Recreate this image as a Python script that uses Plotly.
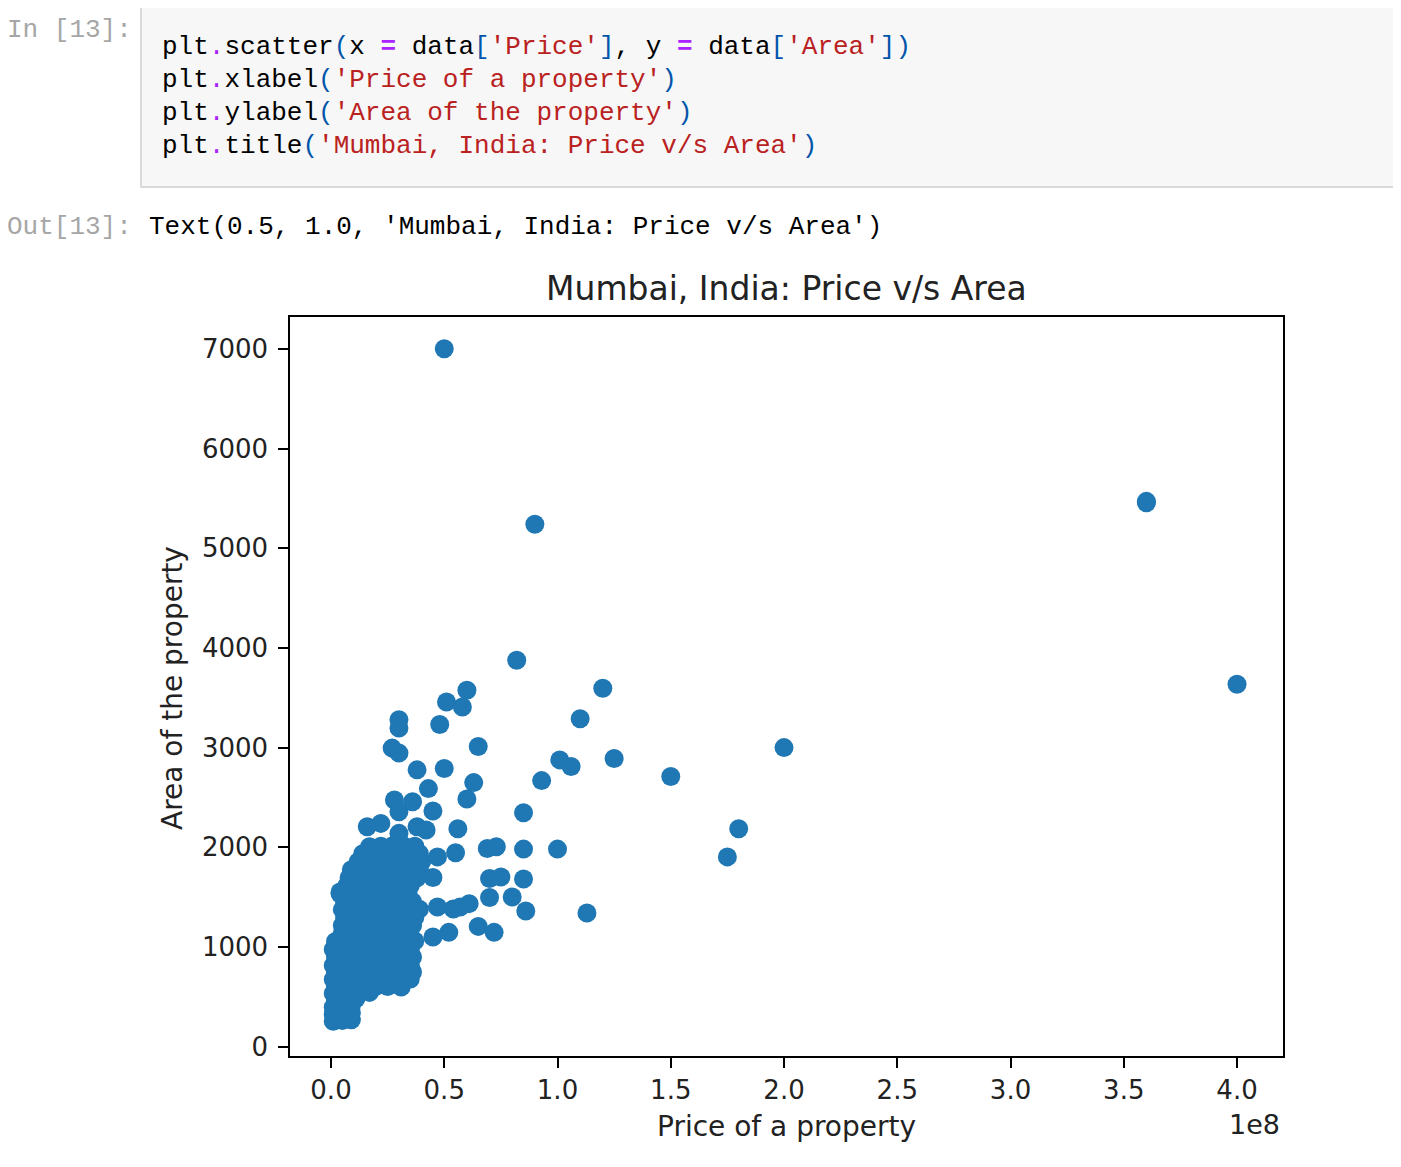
import plotly.graph_objects as go
import numpy as np

# dense block of listings close to the origin (price in units of 1e8)
cluster_price = [
    0.01, 0.05, 0.09,
    0.01, 0.05, 0.09,
    0.01, 0.05, 0.09,
    0.02, 0.06, 0.11,
    0.01, 0.05, 0.09, 0.13, 0.17,
    0.02, 0.06, 0.10, 0.15, 0.20, 0.25, 0.31,
    0.01, 0.05, 0.09, 0.14, 0.19, 0.24, 0.29, 0.35,
    0.02, 0.06, 0.11, 0.16, 0.21, 0.26, 0.31, 0.36,
    0.01, 0.05, 0.10, 0.15, 0.20, 0.25, 0.30, 0.35,
    0.02, 0.06, 0.11, 0.16, 0.21, 0.26, 0.31, 0.36,
    0.01, 0.05, 0.10, 0.15, 0.20, 0.25, 0.30, 0.35,
    0.02, 0.07, 0.12, 0.17, 0.22, 0.27, 0.32, 0.37,
    0.05, 0.09, 0.14, 0.19, 0.24, 0.29, 0.33,
    0.05, 0.10, 0.15, 0.20, 0.25, 0.30, 0.36,
    0.06, 0.11, 0.16, 0.21, 0.26, 0.31, 0.37,
    0.05, 0.10, 0.15, 0.20, 0.25, 0.30, 0.35, 0.39,
    0.06, 0.11, 0.16, 0.21, 0.26, 0.31, 0.36,
    0.04, 0.09, 0.14, 0.19, 0.24, 0.29, 0.34,
    0.07, 0.12, 0.17, 0.22, 0.27, 0.32, 0.35,
    0.08, 0.13, 0.18, 0.23, 0.28, 0.33, 0.38,
    0.09, 0.14, 0.19, 0.24, 0.29, 0.34, 0.39,
    0.12, 0.17, 0.22, 0.27, 0.32, 0.37, 0.40,
    0.14, 0.19, 0.24, 0.29, 0.34, 0.39,
    0.17, 0.22, 0.27, 0.32, 0.37,
]
cluster_area = [
    255, 262, 270,
    325, 332, 340,
    395, 402, 410,
    465, 472, 480,
    535, 540, 545, 550, 545,
    605, 610, 612, 615, 610, 605, 600,
    675, 680, 682, 685, 680, 678, 675, 680,
    745, 750, 752, 755, 750, 748, 745, 750,
    815, 820, 822, 825, 820, 818, 815, 820,
    895, 900, 902, 905, 900, 898, 895, 900,
    975, 980, 982, 985, 980, 978, 975, 980,
    1055, 1060, 1062, 1065, 1060, 1058, 1055, 1060,
    1135, 1140, 1142, 1145, 1140, 1138, 1135,
    1215, 1220, 1222, 1225, 1220, 1218, 1215,
    1295, 1300, 1302, 1305, 1300, 1298, 1295,
    1375, 1380, 1382, 1385, 1380, 1378, 1375, 1380,
    1455, 1460, 1462, 1465, 1460, 1458, 1455,
    1535, 1540, 1542, 1545, 1540, 1538, 1535,
    1615, 1620, 1622, 1625, 1620, 1618, 1615,
    1695, 1700, 1702, 1705, 1700, 1698, 1695,
    1775, 1780, 1782, 1785, 1780, 1778, 1775,
    1855, 1860, 1862, 1865, 1860, 1858, 1855,
    1935, 1940, 1942, 1945, 1940, 1938,
    2005, 2010, 2012, 2015, 2010,
]

# the scattered, pricier listings
spread_price = [
    0.16, 0.22, 0.30, 0.38, 0.42, 0.28, 0.36, 0.30,
    0.30, 0.30, 0.27, 0.30, 0.04, 0.45, 0.52, 0.47,
    0.82, 1.20, 0.60, 0.51, 0.58, 1.10, 0.48, 0.65,
    2.00, 1.25, 1.01, 1.06, 0.50, 0.38, 1.50, 0.93,
    0.63, 0.43, 0.60, 0.45, 0.85, 1.80, 0.56, 0.69,
    0.73, 0.85, 1.00, 0.55, 0.47, 1.75, 0.45, 0.70,
    0.75, 0.85, 0.70, 0.80, 0.61, 0.57, 0.54, 0.86,
    1.13, 0.65, 0.72, 0.90, 0.50, 3.60, 3.60, 4.00,
]
spread_area = [
    2207, 2240, 2140, 2207, 2173, 2475, 2458, 2357,
    3280, 3196, 2995, 2945, 1552, 1100, 1147, 1402,
    3876, 3595, 3575, 3458, 3407, 3290, 3232, 3011,
    3000, 2890, 2877, 2810, 2790, 2777, 2710, 2669,
    2649, 2589, 2485, 2364, 2347, 2186, 2186, 1989,
    2005, 1982, 1982, 1945, 1904, 1904, 1697, 1687,
    1703, 1683, 1496, 1502, 1435, 1402, 1381, 1361,
    1341, 1207, 1147, 5240, 7000, 5456, 5470, 3636,
]

x_tick_vals = [0.0, 0.5, 1.0, 1.5, 2.0, 2.5, 3.0, 3.5, 4.0]
x_tick_text = ["0.0", "0.5", "1.0", "1.5", "2.0", "2.5", "3.0", "3.5", "4.0"]
y_tick_vals = [0, 1000, 2000, 3000, 4000, 5000, 6000, 7000]
y_tick_text = ["0", "1000", "2000", "3000", "4000", "5000", "6000", "7000"]

# page geometry (pixels); the page body adds an 8px margin around the figure
PAGE_W, PAGE_H, OFF = 1401, 1167, 8
PL, PR, PT, PB = 290, 1283, 317, 1056


def px(x):
    return (x - PL) / (PR - PL)


def py(y):
    return (PB - y) / (PB - PT)


BLUE = "#0055aa"
PURPLE = "#aa22ff"
RED = "#ba2121"
PROMPT = "#a6a6a6"
INK = "#222222"
MONO = "Liberation Mono, DejaVu Sans Mono, monospace"
SANS = "DejaVu Sans, sans-serif"


def c(t, col, bold=False):
    if bold:
        t = f"<b>{t}</b>"
    return f"<span style='color:{col}'>{t}</span>"


code_lines = [
    "plt" + c(".", PURPLE) + "scatter" + c("(", BLUE) + "x " + c("=", PURPLE, True)
    + " data" + c("[", BLUE) + c("'Price'", RED) + c("]", BLUE) + ", y "
    + c("=", PURPLE, True) + " data" + c("[", BLUE) + c("'Area'", RED) + c("])", BLUE),
    "plt" + c(".", PURPLE) + "xlabel" + c("(", BLUE) + c("'Price of a property'", RED) + c(")", BLUE),
    "plt" + c(".", PURPLE) + "ylabel" + c("(", BLUE) + c("'Area of the property'", RED) + c(")", BLUE),
    "plt" + c(".", PURPLE) + "title" + c("(", BLUE) + c("'Mumbai, India: Price v/s Area'", RED) + c(")", BLUE),
]
code_y = [47, 80, 113, 146]

price = np.array(cluster_price + spread_price) * 1e8
area = np.array(cluster_area + spread_area)

fig = go.Figure()
fig.add_trace(
    go.Scatter(
        x=price,
        y=area,
        mode="markers",
        marker=dict(size=19, color="#1f77b4", line=dict(width=0)),
        showlegend=False,
        hoverinfo="skip",
    )
)

annotations = []
for txt, yy in zip(code_lines, code_y):
    annotations.append(dict(text=txt, x=px(160), y=py(yy), xanchor="left", yanchor="middle",
                            font=dict(family=MONO, size=26, color="#000000")))
annotations += [
    dict(text="In [13]:", x=px(5), y=py(30), xanchor="left", yanchor="middle",
         font=dict(family=MONO, size=26, color=PROMPT)),
    dict(text="Out[13]:", x=px(5), y=py(227), xanchor="left", yanchor="middle",
         font=dict(family=MONO, size=26, color=PROMPT)),
    dict(text="Text(0.5, 1.0, 'Mumbai, India: Price v/s Area')", x=px(147), y=py(227),
         xanchor="left", yanchor="middle", font=dict(family=MONO, size=26, color="#000000")),
    dict(text="Mumbai, India: Price v/s Area", x=px(786), y=py(289), xanchor="center",
         yanchor="middle", font=dict(family=SANS, size=33, color=INK)),
    dict(text="Price of a property", x=px(786), y=py(1126), xanchor="center",
         yanchor="middle", font=dict(family=SANS, size=28, color=INK)),
    dict(text="Area of the property", x=px(172), y=py(688), xanchor="center",
         yanchor="middle", textangle=-90, font=dict(family=SANS, size=28, color=INK)),
    dict(text="1e8", x=px(1282), y=py(1124), xanchor="right", yanchor="middle",
         font=dict(family=SANS, size=27, color=INK)),
]
for a in annotations:
    a.update(xref="paper", yref="paper", showarrow=False)

axis_style = dict(
    showgrid=False,
    zeroline=False,
    showline=True,
    mirror=True,
    linecolor="black",
    linewidth=1.5,
    ticks="outside",
    ticklen=10,
    tickwidth=1.5,
    tickcolor="black",
    tickfont=dict(family=SANS, size=26, color=INK),
)

fig.update_layout(
    width=PAGE_W - OFF,
    height=PAGE_H - OFF,
    autosize=False,
    margin=dict(l=PL - OFF, r=PAGE_W - PR, t=PT - OFF, b=PAGE_H - PB, pad=0),
    paper_bgcolor="white",
    plot_bgcolor="white",
    annotations=annotations,
    shapes=[
        dict(type="rect", xref="paper", yref="paper", x0=px(141), x1=px(1410),
             y0=py(187), y1=py(3), fillcolor="#f7f7f7", line=dict(color="#d0d0d0", width=1.5),
             layer="below"),
    ],
    xaxis=dict(
        range=[-0.181e8, 4.203e8],
        tickvals=[v * 1e8 for v in x_tick_vals],
        ticktext=x_tick_text,
        **axis_style,
    ),
    yaxis=dict(
        range=[-93, 7319],
        tickvals=y_tick_vals,
        ticktext=y_tick_text,
        ticklabelstandoff=5,
        **axis_style,
    ),
)

fig.write_html("out.html")
